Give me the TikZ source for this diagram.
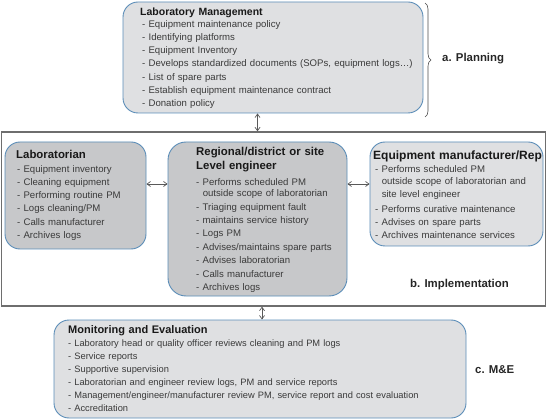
\documentclass[tikz,border=0pt]{standalone}
\usepackage{fontspec}
\setmainfont{Liberation Sans}
\usetikzlibrary{arrows.meta,decorations.pathreplacing}

\definecolor{boxBlue}{HTML}{5B8DB8}
\definecolor{boxLight}{HTML}{DFE0E2}
\definecolor{boxDark}{HTML}{C7C8CA}
\definecolor{implGray}{HTML}{6E6E6E}
\definecolor{itemGray}{HTML}{3A3A3A}

\tikzstyle{lightBox}=[shape=rectangle,rounded corners=15pt,draw=boxBlue,line width=0.9pt,fill=boxLight]
\tikzstyle{darkBox}=[shape=rectangle,rounded corners=15pt,draw=boxBlue,line width=0.9pt,fill=boxDark]
\tikzstyle{implFrame}=[shape=rectangle,draw=implGray,line width=1.3pt,fill=white]
\tikzstyle{boxTitle}=[anchor=base west,inner sep=0pt,align=left,text width=190pt,font=\bfseries\fontsize{10.5}{14}\selectfont,text=black!90]
\tikzstyle{boxItems}=[anchor=base west,inner sep=0pt,align=left,text width=400pt,font=\fontsize{9.6}{13.2}\selectfont,text=itemGray]
\tikzstyle{phaseLabel}=[anchor=west,inner sep=0pt,font=\bfseries\fontsize{11.4}{13}\selectfont,text=black!85]
\tikzstyle{dblArrow}=[{Straight Barb[length=3.5pt,width=5pt]}-{Straight Barb[length=3.5pt,width=5pt]},line width=0.7pt,draw=black!65]

\begin{document}
\begin{tikzpicture}[x=1pt,y=-1pt]
        \useasboundingbox (0,0) rectangle (548,419);

        % planning
        \node[lightBox,minimum width=300pt,minimum height=111pt] (mgmt) at (273,57.5) {};
        \node[boxTitle] (mgmtT) at (140,16) {Laboratory Management};
        \node[boxItems] (mgmtI) at (142,27.4) {- Equipment maintenance policy\\
            - Identifying platforms\\
            - Equipment Inventory\\
            - Develops standardized documents (SOPs, equipment logs\ldots)\\
            - List of spare parts\\
            - Establish equipment maintenance contract\\
            - Donation policy};
        \draw[black!70,line width=0.6pt,decorate,decoration={brace,amplitude=6pt}]
            (425,3) -- (425,117);
        \node[phaseLabel] (plan) at (442,59) {a. Planning};

        % implementation
        \node[implFrame,minimum width=544pt,minimum height=174pt] (impl) at (273.5,219) {};
        \node[darkBox,minimum width=141pt,minimum height=107pt] (lab) at (75.5,195.5) {};
        \node[darkBox,rounded corners=18pt,minimum width=179pt,minimum height=154pt] (eng) at (257.5,219) {};
        \node[lightBox,minimum width=173pt,minimum height=104pt] (mfr) at (456.5,194) {};

        \node[boxTitle,font=\bfseries\fontsize{11.4}{14}\selectfont] (labT) at (16,159) {Laboratorian};
        \node[boxItems] (labI) at (17,172.4) {- Equipment inventory\\
            - Cleaning equipment\\
            - Performing routine PM\\
            - Logs cleaning/PM\\
            - Calls manufacturer\\
            - Archives logs};

        \node[boxTitle,font=\bfseries\fontsize{11.4}{14}\selectfont] (engT) at (196,156) {Regional/district or site\\Level engineer};
        \node[boxItems,font=\fontsize{9.6}{13.4}\selectfont] (engI) at (196,185.4) {- Performs scheduled PM\\[-2pt]
            \hspace*{6.6pt}outside scope of laboratorian\\
            - Triaging equipment fault\\
            - maintains service history\\
            - Logs PM\\
            - Advises/maintains spare parts\\
            - Advises laboratorian\\
            - Calls manufacturer\\
            - Archives logs};

        \node[boxTitle,font=\bfseries\fontsize{12}{14}\selectfont] (mfrT) at (373,159.2) {Equipment manufacturer/Rep};
        \node[boxItems] (mfrI) at (375,172.4) {- Performs scheduled PM\\[-0.7pt]
            \hspace*{6.6pt}outside scope of laboratorian and\\[-0.7pt]
            \hspace*{6.6pt}site level engineer\\[1.6pt]
            - Performs curative maintenance\\
            - Advises on spare parts\\
            - Archives maintenance services};

        \node[phaseLabel] (implL) at (410,285) {b. Implementation};

        % monitoring
        \node[lightBox,minimum width=412pt,minimum height=98pt] (me) at (260,369) {};
        \node[boxTitle,text width=300pt,font=\bfseries\fontsize{11}{14}\selectfont] (meT) at (68,333) {Monitoring and Evaluation};
        \node[boxItems,font=\fontsize{9.3}{13}\selectfont] (meI) at (68,346.4) {- Laboratory head or quality officer reviews cleaning and PM logs\\
            - Service reports\\
            - Supportive supervision\\
            - Laboratorian and engineer review logs, PM and service reports\\
            - Management/engineer/manufacturer review PM, service report and cost evaluation\\
            - Accreditation};
        \node[phaseLabel] (meL) at (475,370) {c. M\&E};

        % links
        \draw[dblArrow] (eng.north |- mgmt.south) -- (eng.north |- impl.north);
        \draw[dblArrow] ([xshift=4.5pt]eng.south |- impl.south) -- ([xshift=4.5pt]eng.south |- me.north);
        \draw[dblArrow] ([yshift=11.5pt]lab.east) -- ([yshift=11.5pt]lab.east -| eng.west);
        \draw[dblArrow] ([yshift=10pt]mfr.west -| eng.east) -- ([yshift=10pt]mfr.west);
\end{tikzpicture}
\end{document}
